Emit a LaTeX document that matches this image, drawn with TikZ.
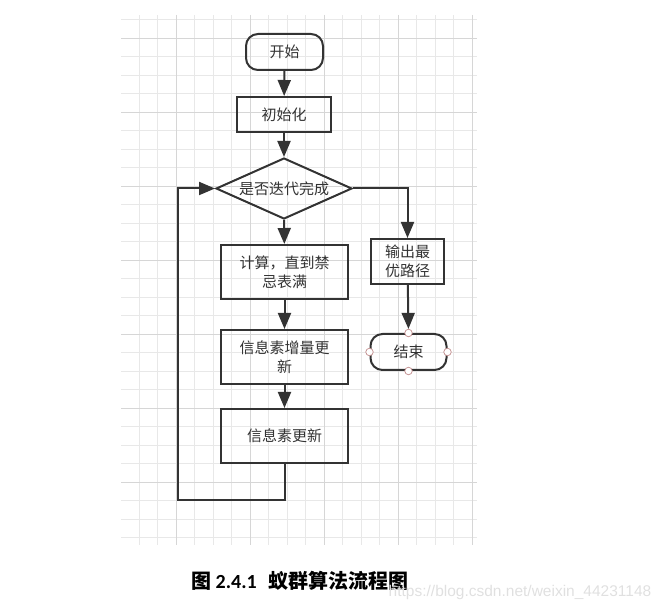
\documentclass[tikz,border=0pt]{standalone}
\usepackage{fontspec}
\usepackage{xcolor}
\usepackage{tikz}
\usetikzlibrary{shapes.geometric, arrows}
\usetikzlibrary{arrows.meta}
\setmainfont{Noto Sans CJK SC}
\newfontfamily\numfont{Carlito}
\newfontfamily\urlfont{Liberation Sans}
\definecolor{ink}{HTML}{333333}
\definecolor{gridlo}{HTML}{E8E8E8}
\definecolor{gridhi}{HTML}{D6D6D6}
\definecolor{handle}{HTML}{C08A8A}
\tikzstyle{startstop} = [rectangle, rounded corners=12pt, minimum width=77pt, minimum height=36pt, text centered, draw=ink, line width=2pt, text=ink]
\tikzstyle{process} = [rectangle, minimum width=127pt, minimum height=54pt, text centered, draw=ink, line width=2pt, text=ink, inner sep=0pt]
\tikzstyle{decision} = [diamond, minimum width=136pt, minimum height=61pt, shape aspect=2.2, inner sep=0pt, text centered, draw=ink, line width=2pt, text=ink]
\tikzstyle{arrow} = [line width=2pt, draw=ink, -{Triangle[length=16pt, width=13pt]}]
\tikzstyle{handledot} = [circle, draw=handle, fill=white, line width=0.7pt, minimum size=7.5pt, inner sep=0pt]

\begin{document}
\begin{tikzpicture}[x=1pt, y=-1pt, node distance=80pt, font=\fontsize{15}{19}\selectfont]
                    \useasboundingbox (0,0) rectangle (665,612);

                    % grid paper
                    \begin{scope}
                    \clip (121,15) rectangle (477,545);
                    \foreach \k in {0,...,19} \draw[gridlo, line width=0.8pt] (120.5+18.5*\k,15) -- (120.5+18.5*\k,545);
                    \foreach \k in {0,...,28} \draw[gridlo, line width=0.8pt] (121,19.5+18.5*\k) -- (477,19.5+18.5*\k);
                    \foreach \k in {0,...,4} \draw[gridhi, line width=0.9pt] (176+74*\k,15) -- (176+74*\k,545);
                    \foreach \k in {0,...,6} \draw[gridhi, line width=0.9pt] (121,38+74*\k) -- (477,38+74*\k);
                    \end{scope}

                    \node (1) [startstop] at (284.5,52) {开始};
                    \node (2) [process, minimum width=94pt, minimum height=35pt] at (284,114.5) {初始化};
                    \node (3) [decision] at (284,188.5) {是否迭代完成};
                    \node (4) [process, align=center] at (284.5,272) {计算，直到禁\\忌表满};
                    \node (5) [process, align=center, below of=4, yshift=-5pt] {信息素增量更\\新};
                    \node (6) [process, below of=5, yshift=1pt] {信息素更新};
                    \node (7) [process, align=center, minimum width=73pt, minimum height=45pt] at (407.5,261.5) {输出最\\优路径};
                    \node (8) [startstop, minimum width=76pt] at (408.5,352) {结束};

                    \node (h1) [handledot] at (8.north) {};
                    \node (h2) [handledot] at (8.south) {};
                    \node (h3) [handledot] at (8.west) {};
                    \node (h4) [handledot] at (8.east) {};

                    \coordinate (loop) at (178,500);

                    \draw[arrow] (1) -- (2);
                    \draw[arrow] (2) -- (3);
                    \draw[arrow] (3) -- (4);
                    \draw[arrow] (4) -- (5);
                    \draw[arrow] (5) -- (6);
                    \draw[arrow] (6.south) |- (loop) |- (3.west);
                    \draw[arrow] (3.east) -| (7.north);
                    \draw[arrow] (7) -- (h1);

                    \node (cap) at (300,581) {\fontsize{20}{23}\selectfont\bfseries 图 {\numfont 2.4.1}\hspace{0.6em}蚁群算法流程图};
                    \node (mark) at (520,592) {\urlfont\fontsize{15.5}{18}\selectfont\color{black!12}https://blog.csdn.net/weixin\_44231148};
                \end{tikzpicture}
\end{document}
